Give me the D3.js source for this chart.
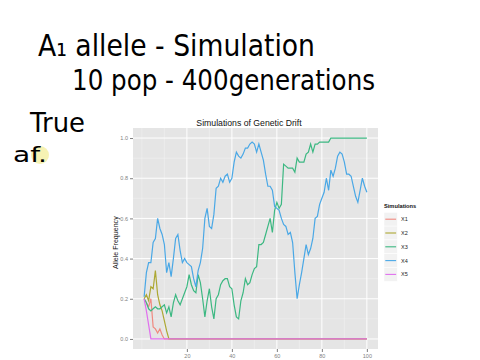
<!DOCTYPE html>
<html>
<head>
<meta charset="utf-8">
<script src="https://cdn.jsdelivr.net/npm/d3@7"></script>
<style>
body{margin:0;background:#fff;}
svg{display:block;}
</style>
</head>
<body>
<svg class="graph"></svg>
<script>
let gens=d3.range(1,101)
let seriesNames=['X1','X2','X3','X4','X5']
let x1=[0.20,0.18,0.16,0.20,0.06,0.05,0.03,0.05,0.02,0.00,
        0,0,0,0,0,0,0,0,0,0, 0,0,0,0,0,0,0,0,0,0, 0,0,0,0,0,0,0,0,0,0,
        0,0,0,0,0,0,0,0,0,0, 0,0,0,0,0,0,0,0,0,0, 0,0,0,0,0,0,0,0,0,0,
        0,0,0,0,0,0,0,0,0,0, 0,0,0,0,0,0,0,0,0,0, 0,0,0,0,0,0,0,0,0,0]
let x2=[0.20,0.22,0.19,0.26,0.25,0.34,0.22,0.17,0.14,0.09,
        0.04,0.00,0,0,0,0,0,0,0,0, 0,0,0,0,0,0,0,0,0,0, 0,0,0,0,0,0,0,0,0,0,
        0,0,0,0,0,0,0,0,0,0, 0,0,0,0,0,0,0,0,0,0, 0,0,0,0,0,0,0,0,0,0,
        0,0,0,0,0,0,0,0,0,0, 0,0,0,0,0,0,0,0,0,0, 0,0,0,0,0,0,0,0,0,0]
let x3=[0.20,0.18,0.15,0.14,0.15,0.16,0.15,0.15,0.16,0.17,
        0.13,0.16,0.11,0.18,0.22,0.19,0.17,0.20,0.23,0.26,
        0.32,0.27,0.24,0.23,0.32,0.28,0.20,0.11,0.19,0.25,
        0.16,0.10,0.20,0.22,0.27,0.29,0.30,0.30,0.26,0.25,
        0.17,0.11,0.10,0.19,0.23,0.30,0.27,0.28,0.32,0.35,
        0.36,0.47,0.47,0.48,0.52,0.56,0.60,0.53,0.64,0.68,
        0.65,0.67,0.87,0.86,0.85,0.85,0.85,0.83,0.90,0.88,
        0.88,0.88,0.92,0.93,0.97,0.93,0.97,0.97,0.98,0.98,
        0.98,0.98,0.98,1.00,1.00,1.00,1.00,1.00,1.00,1.00,
        1.00,1.00,1.00,1.00,1.00,1.00,1.00,1.00,1.00,1.00]
let x4=[0.21,0.33,0.38,0.38,0.48,0.50,0.60,0.55,0.52,0.47,
        0.33,0.38,0.31,0.40,0.50,0.52,0.44,0.38,0.40,0.38,
        0.37,0.36,0.30,0.26,0.34,0.38,0.45,0.60,0.65,0.56,
        0.55,0.62,0.75,0.76,0.80,0.78,0.81,0.82,0.78,0.80,
        0.88,0.93,0.91,0.90,0.92,0.95,0.95,0.97,0.98,0.97,
        0.93,0.97,0.93,0.89,0.82,0.76,0.76,0.74,0.66,0.65,
        0.64,0.60,0.57,0.56,0.52,0.53,0.48,0.33,0.20,0.27,
        0.33,0.40,0.47,0.42,0.45,0.50,0.60,0.61,0.67,0.70,
        0.73,0.80,0.74,0.84,0.81,0.85,0.91,0.93,0.92,0.88,
        0.82,0.82,0.81,0.76,0.71,0.68,0.74,0.80,0.76,0.73]
let x5=[0.20,0.14,0.07,0.00,0,0,0,0,0,0,
        0,0,0,0,0,0,0,0,0,0, 0,0,0,0,0,0,0,0,0,0, 0,0,0,0,0,0,0,0,0,0,
        0,0,0,0,0,0,0,0,0,0, 0,0,0,0,0,0,0,0,0,0, 0,0,0,0,0,0,0,0,0,0,
        0,0,0,0,0,0,0,0,0,0, 0,0,0,0,0,0,0,0,0,0, 0,0,0,0,0,0,0,0,0,0]
let xticks=[20,40,60,80,100]
let yticks=[0,0.2,0.4,0.6,0.8,1.0]
let xminor=[0,10,30,50,70,90]
let yminor=[0.1,0.3,0.5,0.7,0.9]
let notes=['A\u2081 allele - Simulation','10 pop - 400generations','True','af.']

let colorscheme=['#F08A80','#ADA833','#3CB882','#4AA8E6','#E070EE']
let allSeries=[x1,x2,x3,x4,x5]

let svg=d3.select('.graph').attr('width',480).attr('height',360)
svg.append('rect').attr('width',480).attr('height',360).attr('fill','#fff')

// handwritten notes on the board
let noteLayout=[
    {x:38,y:56,size:30,len:277},
    {x:72,y:90,size:28,len:303},
    {x:30,y:132,size:27,len:55},
    {x:13,y:162,size:22,len:34}
]
svg.append('circle').attr('cx',40).attr('cy',155).attr('r',9)
   .attr('fill','#f3ee9a').attr('opacity',0.75)
svg.selectAll('.note')
   .data(notes)
   .join('text')
   .attr('class','note')
   .attr('x',(d,i)=>noteLayout[i].x)
   .attr('y',(d,i)=>noteLayout[i].y)
   .attr('textLength',(d,i)=>noteLayout[i].len)
   .attr('lengthAdjust','spacingAndGlyphs')
   .style('font-size',(d,i)=>noteLayout[i].size+'px')
   .style('font-family','DejaVu Sans')
   .style('font-weight','normal')
   .style('fill','#000')
   .text(d=>d)

let panel={left:133,right:378,top:128,bottom:349}
let xscale=d3.scaleLinear().domain([-3.95,104.95]).range([panel.left,panel.right])
let yscale=d3.scaleLinear().domain([-0.05,1.05]).range([panel.bottom,panel.top])
let linecolor=d3.scaleOrdinal().domain(seriesNames).range(colorscheme)

svg.append('rect')
   .attr('x',panel.left).attr('y',panel.top)
   .attr('width',panel.right-panel.left).attr('height',panel.bottom-panel.top)
   .attr('fill','#E5E5E5')

// minor grid
svg.append('g').selectAll('line').data(xminor).join('line')
   .attr('x1',d=>xscale(d)).attr('x2',d=>xscale(d))
   .attr('y1',panel.top).attr('y2',panel.bottom)
   .attr('stroke','#F2F2F2').attr('stroke-width',0.5)
svg.append('g').selectAll('line').data(yminor).join('line')
   .attr('y1',d=>yscale(d)).attr('y2',d=>yscale(d))
   .attr('x1',panel.left).attr('x2',panel.right)
   .attr('stroke','#F2F2F2').attr('stroke-width',0.5)
// major grid
svg.append('g').selectAll('line').data(xticks).join('line')
   .attr('x1',d=>xscale(d)).attr('x2',d=>xscale(d))
   .attr('y1',panel.top).attr('y2',panel.bottom)
   .attr('stroke','#fff').attr('stroke-width',1)
svg.append('g').selectAll('line').data(yticks).join('line')
   .attr('y1',d=>yscale(d)).attr('y2',d=>yscale(d))
   .attr('x1',panel.left).attr('x2',panel.right)
   .attr('stroke','#fff').attr('stroke-width',1)

let xaxis=svg.append('g').attr('transform',`translate(0,${panel.bottom})`)
   .call(d3.axisBottom(xscale).tickValues(xticks).tickSize(3).tickPadding(2))
let yaxis=svg.append('g').attr('transform',`translate(${panel.left},0)`)
   .call(d3.axisLeft(yscale).tickValues(yticks).tickFormat(d3.format('.1f')).tickSize(3).tickPadding(2))
svg.selectAll('.domain').remove()
svg.selectAll('.tick line').attr('stroke','#7F7F7F')
svg.selectAll('.tick text').style('fill','#7F7F7F').style('font-size','5.5px')
   .style('font-family','Liberation Sans')

let line=d3.line()
   .x((d,i)=>xscale(gens[i]))
   .y(d=>yscale(d))

svg.selectAll('.sim')
   .data(allSeries)
   .join('path')
   .attr('class','sim')
   .attr('d',d=>line(d))
   .attr('stroke',(d,i)=>linecolor(seriesNames[i]))
   .style('stroke-width',1.2)
   .style('fill','none')

svg.append('text')
   .attr('x',249).attr('y',125.5)
   .attr('text-anchor','middle')
   .style('font-family','Liberation Sans').style('font-size','8.7px')
   .style('fill','#111')
   .text('Simulations of Genetic Drift')

svg.append('text')
   .attr('transform','translate(118,242.7) rotate(-90)')
   .attr('text-anchor','middle')
   .style('font-family','Liberation Sans').style('font-size','7.1px')
   .style('fill','#111')
   .text('Allele Frequency')

// legend
let lgd=svg.append('g').attr('transform','translate(384,0)')
lgd.append('text').attr('x',0).attr('y',208)
   .style('font-family','Liberation Sans').style('font-size','5.7px').style('font-weight','bold')
   .style('fill','#111')
   .text('Simulations')
let keys=lgd.selectAll('.key').data(seriesNames).join('g')
   .attr('class','key')
   .attr('transform',(d,i)=>`translate(0,${212.3+i*13.8})`)
keys.append('rect').attr('width',13.4).attr('height',13.8)
   .attr('fill','#F2F2F2').attr('stroke','#fff').attr('stroke-width',0.5)
keys.append('line').attr('x1',1.3).attr('x2',12.1).attr('y1',6.9).attr('y2',6.9)
   .attr('stroke',d=>linecolor(d)).attr('stroke-width',1.1)
keys.append('text').attr('x',17).attr('y',8.9)
   .style('font-family','Liberation Sans').style('font-size','5.5px')
   .style('fill','#222')
   .text(d=>d)
</script>
</body>
</html>
